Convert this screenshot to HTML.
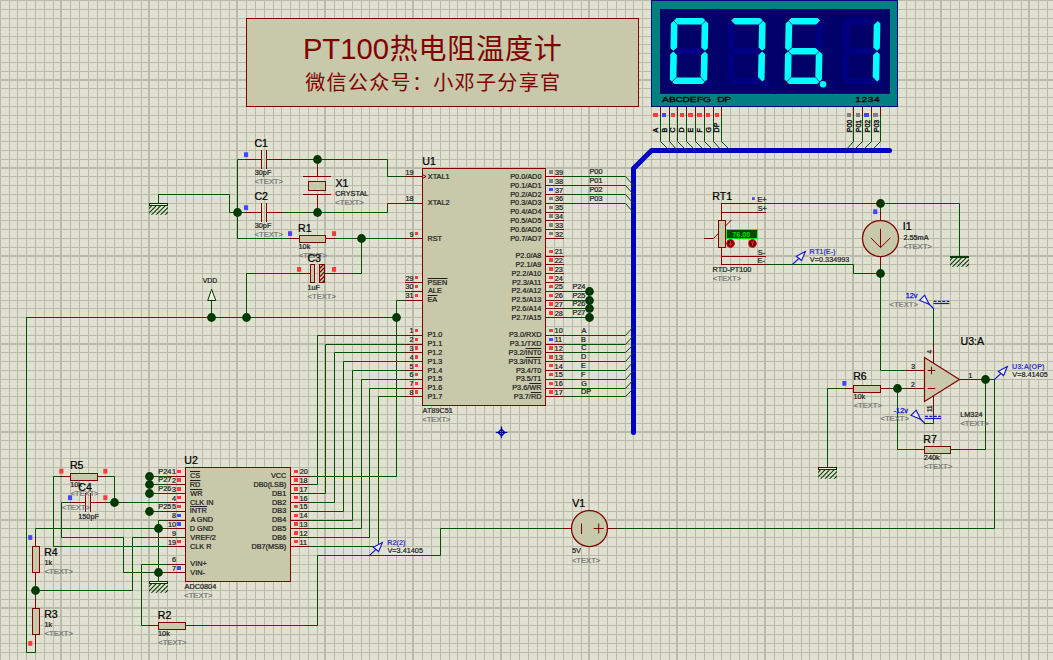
<!DOCTYPE html>
<html><head><meta charset="utf-8"><title>PT100 thermometer schematic</title>
<style>html,body{margin:0;padding:0;background:#E0E1D0;}svg{display:block}text{font-family:"Liberation Sans",sans-serif;}
.t{font-size:7.31px;fill:#202020;stroke:#202020;stroke-width:.22px}
.e{text-anchor:end}
.g{font-size:7.62px;fill:#727272;stroke:#727272;stroke-width:.2px}
.n{font-size:10.6px;fill:#000;stroke:#000;stroke-width:.24px}
.d{font-size:7.9px;fill:#000;stroke:#000;stroke-width:.3px}
.r{font-size:7px;fill:#101010;stroke:#101010;stroke-width:.4px}
.p{font-size:7.31px;fill:#3a3ad6;font-weight:bold}
.s{font-size:6.8px;fill:#202020;stroke:#202020;stroke-width:.23px}
.b{font-size:7.31px;fill:#2020cc;stroke:#2020cc;stroke-width:.31px}
.cj{font-family:"Liberation Sans","Noto Sans CJK SC",sans-serif;fill:#800000}
</style>
</head><body>
<svg width="1053" height="660" viewBox="0 0 1053 660" stroke-linecap="square">
<rect x="0" y="0" width="1053" height="660" fill="#E0E1D0"/>
<path d="M0.5 0V660M9.5 0V660M17.5 0V660M26.5 0V660M35.5 0V660M44.5 0V660M53.5 0V660M70.5 0V660M79.5 0V660M88.5 0V660M97.5 0V660M105.5 0V660M114.5 0V660M123.5 0V660M132.5 0V660M141.5 0V660M158.5 0V660M167.5 0V660M176.5 0V660M185.5 0V660M193.5 0V660M202.5 0V660M211.5 0V660M220.5 0V660M229.5 0V660M246.5 0V660M255.5 0V660M264.5 0V660M273.5 0V660M281.5 0V660M290.5 0V660M299.5 0V660M308.5 0V660M317.5 0V660M334.5 0V660M343.5 0V660M352.5 0V660M361.5 0V660M369.5 0V660M378.5 0V660M387.5 0V660M396.5 0V660M405.5 0V660M422.5 0V660M431.5 0V660M440.5 0V660M449.5 0V660M457.5 0V660M466.5 0V660M475.5 0V660M484.5 0V660M493.5 0V660M510.5 0V660M519.5 0V660M528.5 0V660M537.5 0V660M545.5 0V660M554.5 0V660M563.5 0V660M572.5 0V660M581.5 0V660M598.5 0V660M607.5 0V660M616.5 0V660M625.5 0V660M633.5 0V660M642.5 0V660M651.5 0V660M660.5 0V660M669.5 0V660M686.5 0V660M695.5 0V660M704.5 0V660M713.5 0V660M721.5 0V660M730.5 0V660M739.5 0V660M748.5 0V660M757.5 0V660M774.5 0V660M783.5 0V660M792.5 0V660M801.5 0V660M809.5 0V660M818.5 0V660M827.5 0V660M836.5 0V660M845.5 0V660M862.5 0V660M871.5 0V660M880.5 0V660M889.5 0V660M897.5 0V660M906.5 0V660M915.5 0V660M924.5 0V660M933.5 0V660M950.5 0V660M959.5 0V660M968.5 0V660M977.5 0V660M985.5 0V660M994.5 0V660M1003.5 0V660M1012.5 0V660M1021.5 0V660M1038.5 0V660M1047.5 0V660M0 0.5H1053M0 9.5H1053M0 18.5H1053M0 27.5H1053M0 36.5H1053M0 44.5H1053M0 53.5H1053M0 62.5H1053M0 71.5H1053M0 88.5H1053M0 97.5H1053M0 106.5H1053M0 115.5H1053M0 124.5H1053M0 132.5H1053M0 141.5H1053M0 150.5H1053M0 159.5H1053M0 176.5H1053M0 185.5H1053M0 194.5H1053M0 203.5H1053M0 212.5H1053M0 220.5H1053M0 229.5H1053M0 238.5H1053M0 247.5H1053M0 264.5H1053M0 273.5H1053M0 282.5H1053M0 291.5H1053M0 300.5H1053M0 308.5H1053M0 317.5H1053M0 326.5H1053M0 335.5H1053M0 352.5H1053M0 361.5H1053M0 370.5H1053M0 379.5H1053M0 388.5H1053M0 396.5H1053M0 405.5H1053M0 414.5H1053M0 423.5H1053M0 440.5H1053M0 449.5H1053M0 458.5H1053M0 467.5H1053M0 476.5H1053M0 484.5H1053M0 493.5H1053M0 502.5H1053M0 511.5H1053M0 528.5H1053M0 537.5H1053M0 546.5H1053M0 555.5H1053M0 564.5H1053M0 572.5H1053M0 581.5H1053M0 590.5H1053M0 599.5H1053M0 616.5H1053M0 625.5H1053M0 634.5H1053M0 643.5H1053M0 652.5H1053" stroke="#B9BAA9" stroke-width="1" fill="none"/>
<path d="M61 0V660M149 0V660M237 0V660M325 0V660M413 0V660M501 0V660M589 0V660M677 0V660M765 0V660M853 0V660M941 0V660M1029 0V660M0 80H1053M0 168H1053M0 256H1053M0 344H1053M0 432H1053M0 520H1053M0 608H1053" stroke="#B9BAA9" stroke-width="2" fill="none"/>
<polyline points="633.5,432.5 633.5,168.5 651.5,150.5 889.5,150.5" stroke="#0000C4" stroke-width="5" fill="none" stroke-linecap="round" stroke-linejoin="round"/>
<rect x="246.5" y="18.5" width="392" height="88" fill="#C8C8AA" stroke="#800000" stroke-width="1" />
<text x="302.9" y="58.8" font-size="29.2" fill="#800000">PT100</text>
<text class="cj" y="58.57" x="389.73 418.53 447.33 476.13 504.93 533.73" font-size="27.94">热电阻温度计</text>
<text class="cj" y="89.51" x="305.14 326.49 347.84 369.19 390.54 411.89 433.24 454.59 475.94 497.29 518.64 539.99" font-size="20.07">微信公众号：小邓子分享官</text>
<rect x="651.5" y="0.5" width="246" height="106" fill="#008080" stroke="#000080" stroke-width="1" />
<rect x="660" y="9" width="230" height="84.8" fill="#000068" stroke="none" stroke-width="1" />
<line x1="717.35" y1="9" x2="717.35" y2="93.8" stroke="#00007c" stroke-width="1" />
<line x1="774.7" y1="9" x2="774.7" y2="93.8" stroke="#00007c" stroke-width="1" />
<line x1="832.05" y1="9" x2="832.05" y2="93.8" stroke="#00007c" stroke-width="1" />
<polygon points="676.62,18 702.82,18 705.39,20.62 701.51,24.6 677.67,24.6 673.95,20.62" stroke="none" stroke-width="0" fill="#00FFFF" />
<polygon points="674.3,84 702.5,84 704.66,81.88 700.45,77.4 676.61,77.4 672.22,81.88" stroke="none" stroke-width="0" fill="#00FFFF" />
<polygon points="673.76,51.2 677.42,47.9 700.82,47.9 704.36,51.2 700.69,54.5 677.29,54.5" stroke="none" stroke-width="0" fill="#000080" />
<polygon points="670.91,23.6 673.58,20.98 677.48,24.96 677.03,47.4 673.26,50.8 670.42,48.2" stroke="none" stroke-width="0" fill="#00FFFF" />
<polygon points="708.31,23.6 705.74,20.98 701.68,24.96 701.23,47.4 704.86,50.8 707.82,48.2" stroke="none" stroke-width="0" fill="#00FFFF" />
<polygon points="669.79,79.4 671.87,81.52 676.44,77.04 676.88,55 673.25,51.6 670.3,54.2" stroke="none" stroke-width="0" fill="#00FFFF" />
<polygon points="707.19,79.4 705.03,81.52 700.64,77.04 701.08,55 704.85,51.6 707.7,54.2" stroke="none" stroke-width="0" fill="#00FFFF" />
<circle cx="708.4" cy="84.2" r="3.3" fill="#000080" stroke="none" stroke-width="1"/>
<polygon points="733.97,18 760.17,18 762.74,20.62 758.86,24.6 735.02,24.6 731.3,20.62" stroke="none" stroke-width="0" fill="#00FFFF" />
<polygon points="731.65,84 759.85,84 762.01,81.88 757.8,77.4 733.96,77.4 729.57,81.88" stroke="none" stroke-width="0" fill="#000080" />
<polygon points="731.11,51.2 734.77,47.9 758.17,47.9 761.71,51.2 758.04,54.5 734.64,54.5" stroke="none" stroke-width="0" fill="#000080" />
<polygon points="728.26,23.6 730.93,20.98 734.83,24.96 734.38,47.4 730.61,50.8 727.77,48.2" stroke="none" stroke-width="0" fill="#000080" />
<polygon points="765.66,23.6 763.09,20.98 759.03,24.96 758.58,47.4 762.21,50.8 765.17,48.2" stroke="none" stroke-width="0" fill="#00FFFF" />
<polygon points="727.14,79.4 729.22,81.52 733.79,77.04 734.23,55 730.6,51.6 727.65,54.2" stroke="none" stroke-width="0" fill="#000080" />
<polygon points="764.54,79.4 762.38,81.52 757.99,77.04 758.43,55 762.2,51.6 765.05,54.2" stroke="none" stroke-width="0" fill="#00FFFF" />
<circle cx="765.75" cy="84.2" r="3.3" fill="#000080" stroke="none" stroke-width="1"/>
<polygon points="791.32,18 817.52,18 820.09,20.62 816.21,24.6 792.37,24.6 788.65,20.62" stroke="none" stroke-width="0" fill="#00FFFF" />
<polygon points="789,84 817.2,84 819.36,81.88 815.15,77.4 791.31,77.4 786.92,81.88" stroke="none" stroke-width="0" fill="#00FFFF" />
<polygon points="788.46,51.2 792.12,47.9 815.52,47.9 819.06,51.2 815.39,54.5 791.99,54.5" stroke="none" stroke-width="0" fill="#00FFFF" />
<polygon points="785.61,23.6 788.28,20.98 792.18,24.96 791.73,47.4 787.96,50.8 785.12,48.2" stroke="none" stroke-width="0" fill="#00FFFF" />
<polygon points="823.01,23.6 820.44,20.98 816.38,24.96 815.93,47.4 819.56,50.8 822.52,48.2" stroke="none" stroke-width="0" fill="#000080" />
<polygon points="784.49,79.4 786.57,81.52 791.14,77.04 791.58,55 787.95,51.6 785,54.2" stroke="none" stroke-width="0" fill="#00FFFF" />
<polygon points="821.89,79.4 819.73,81.52 815.34,77.04 815.78,55 819.55,51.6 822.4,54.2" stroke="none" stroke-width="0" fill="#00FFFF" />
<circle cx="823.1" cy="84.2" r="3.3" fill="#00FFFF" stroke="none" stroke-width="1"/>
<polygon points="848.67,18 874.87,18 877.44,20.62 873.56,24.6 849.72,24.6 846,20.62" stroke="none" stroke-width="0" fill="#000080" />
<polygon points="846.35,84 874.55,84 876.71,81.88 872.5,77.4 848.66,77.4 844.27,81.88" stroke="none" stroke-width="0" fill="#000080" />
<polygon points="845.81,51.2 849.47,47.9 872.87,47.9 876.41,51.2 872.74,54.5 849.34,54.5" stroke="none" stroke-width="0" fill="#000080" />
<polygon points="842.96,23.6 845.63,20.98 849.53,24.96 849.08,47.4 845.31,50.8 842.47,48.2" stroke="none" stroke-width="0" fill="#000080" />
<polygon points="880.36,23.6 877.79,20.98 873.73,24.96 873.28,47.4 876.91,50.8 879.87,48.2" stroke="none" stroke-width="0" fill="#00FFFF" />
<polygon points="841.84,79.4 843.92,81.52 848.49,77.04 848.93,55 845.3,51.6 842.35,54.2" stroke="none" stroke-width="0" fill="#000080" />
<polygon points="879.24,79.4 877.08,81.52 872.69,77.04 873.13,55 876.9,51.6 879.75,54.2" stroke="none" stroke-width="0" fill="#00FFFF" />
<circle cx="880.45" cy="84.2" r="3.3" fill="#000080" stroke="none" stroke-width="1"/>
<text class="d" transform="translate(661.97 102) scale(1.298 1)">A</text>
<text class="d" transform="translate(668.9 102) scale(1.298 1)">B</text>
<text class="d" transform="translate(675.55 102) scale(1.298 1)">C</text>
<text class="d" transform="translate(682.48 102) scale(1.298 1)">D</text>
<text class="d" transform="translate(689.69 102) scale(1.298 1)">E</text>
<text class="d" transform="translate(696.91 102) scale(1.298 1)">F</text>
<text class="d" transform="translate(702.99 102) scale(1.298 1)">G</text>
<text class="d" transform="translate(717.13 102) scale(1.298 1)">D</text>
<text class="d" transform="translate(724.34 102) scale(1.298 1)">P</text>
<text class="d" transform="translate(855.34 102) scale(1.298 1)">1</text>
<text class="d" transform="translate(861.54 102) scale(1.298 1)">2</text>
<text class="d" transform="translate(867.74 102) scale(1.298 1)">3</text>
<text class="d" transform="translate(873.94 102) scale(1.298 1)">4</text>
<line x1="660.5" y1="107.5" x2="660.5" y2="115.5" stroke="#800000" stroke-width="1" />
<polyline points="660.5,115.5 660.5,141.5 669.5,150.5" stroke="#005000" stroke-width="1" fill="none" />
<rect x="653" y="113" width="5" height="4" fill="#FF3C3C" stroke="none" stroke-width="1" />
<text class="r" transform="translate(657.9 132.4) rotate(-90)">A</text>
<line x1="669.5" y1="107.5" x2="669.5" y2="115.5" stroke="#800000" stroke-width="1" />
<polyline points="669.5,115.5 669.5,141.5 677.5,150.5" stroke="#005000" stroke-width="1" fill="none" />
<rect x="662" y="113" width="4" height="4" fill="#4646FF" stroke="none" stroke-width="1" />
<text class="r" transform="translate(666.9 132.4) rotate(-90)">B</text>
<line x1="677.5" y1="107.5" x2="677.5" y2="115.5" stroke="#800000" stroke-width="1" />
<polyline points="677.5,115.5 677.5,141.5 686.5,150.5" stroke="#005000" stroke-width="1" fill="none" />
<rect x="671" y="113" width="4" height="4" fill="#FF3C3C" stroke="none" stroke-width="1" />
<text class="r" transform="translate(674.9 132.4) rotate(-90)">C</text>
<line x1="686.5" y1="107.5" x2="686.5" y2="115.5" stroke="#800000" stroke-width="1" />
<polyline points="686.5,115.5 686.5,141.5 695.5,150.5" stroke="#005000" stroke-width="1" fill="none" />
<rect x="680" y="113" width="4" height="4" fill="#FF3C3C" stroke="none" stroke-width="1" />
<text class="r" transform="translate(683.9 132.4) rotate(-90)">D</text>
<line x1="695.5" y1="107.5" x2="695.5" y2="115.5" stroke="#800000" stroke-width="1" />
<polyline points="695.5,115.5 695.5,141.5 704.5,150.5" stroke="#005000" stroke-width="1" fill="none" />
<rect x="688" y="113" width="5" height="4" fill="#FF3C3C" stroke="none" stroke-width="1" />
<text class="r" transform="translate(692.9 132.4) rotate(-90)">E</text>
<line x1="704.5" y1="107.5" x2="704.5" y2="115.5" stroke="#800000" stroke-width="1" />
<polyline points="704.5,115.5 704.5,141.5 713.5,150.5" stroke="#005000" stroke-width="1" fill="none" />
<rect x="697" y="113" width="5" height="4" fill="#FF3C3C" stroke="none" stroke-width="1" />
<text class="r" transform="translate(701.9 132.4) rotate(-90)">F</text>
<line x1="713.5" y1="107.5" x2="713.5" y2="115.5" stroke="#800000" stroke-width="1" />
<polyline points="713.5,115.5 713.5,141.5 721.5,150.5" stroke="#005000" stroke-width="1" fill="none" />
<rect x="706" y="113" width="4" height="4" fill="#FF3C3C" stroke="none" stroke-width="1" />
<text class="r" transform="translate(710.9 132.4) rotate(-90)">G</text>
<line x1="721.5" y1="107.5" x2="721.5" y2="115.5" stroke="#800000" stroke-width="1" />
<polyline points="721.5,115.5 721.5,141.5 730.5,150.5" stroke="#005000" stroke-width="1" fill="none" />
<rect x="715" y="113" width="4" height="4" fill="#FF3C3C" stroke="none" stroke-width="1" />
<text class="r" transform="translate(718.9 132.4) rotate(-90)">DP</text>
<line x1="853.5" y1="107.5" x2="853.5" y2="115.5" stroke="#800000" stroke-width="1" />
<polyline points="853.5,115.5 853.5,141.5 845.5,150.5" stroke="#005000" stroke-width="1" fill="none" />
<rect x="847" y="113" width="4" height="4" fill="#808080" stroke="none" stroke-width="1" />
<text class="r" transform="translate(852.1 132.2) rotate(-90)">P00</text>
<line x1="862.5" y1="107.5" x2="862.5" y2="115.5" stroke="#800000" stroke-width="1" />
<polyline points="862.5,115.5 862.5,141.5 853.5,150.5" stroke="#005000" stroke-width="1" fill="none" />
<rect x="856" y="113" width="4" height="4" fill="#808080" stroke="none" stroke-width="1" />
<text class="r" transform="translate(861.1 132.2) rotate(-90)">P01</text>
<line x1="871.5" y1="107.5" x2="871.5" y2="115.5" stroke="#800000" stroke-width="1" />
<polyline points="871.5,115.5 871.5,141.5 862.5,150.5" stroke="#005000" stroke-width="1" fill="none" />
<rect x="864" y="113" width="5" height="4" fill="#4646FF" stroke="none" stroke-width="1" />
<text class="r" transform="translate(870.1 132.2) rotate(-90)">P02</text>
<line x1="880.5" y1="107.5" x2="880.5" y2="115.5" stroke="#800000" stroke-width="1" />
<polyline points="880.5,115.5 880.5,141.5 871.5,150.5" stroke="#005000" stroke-width="1" fill="none" />
<rect x="873" y="113" width="5" height="4" fill="#808080" stroke="none" stroke-width="1" />
<text class="r" transform="translate(879.1 132.2) rotate(-90)">P03</text>
<polyline points="246.5,159.5 237.5,159.5 237.5,238.5 290.5,238.5" stroke="#005000" stroke-width="1" fill="none" />
<polyline points="246.5,212.5 237.5,212.5" stroke="#005000" stroke-width="1" fill="none" />
<polyline points="158.5,203.5 158.5,194.5 229.5,194.5 229.5,212.5 237.5,212.5" stroke="#005000" stroke-width="1" fill="none" />
<polyline points="281.5,159.5 387.5,159.5 387.5,176.5 405.5,176.5" stroke="#005000" stroke-width="1" fill="none" />
<polyline points="281.5,212.5 387.5,212.5 387.5,203.5 405.5,203.5" stroke="#005000" stroke-width="1" fill="none" />
<polyline points="334.5,238.5 405.5,238.5" stroke="#005000" stroke-width="1" fill="none" />
<polyline points="334.5,273.5 361.5,273.5 361.5,238.5" stroke="#005000" stroke-width="1" fill="none" />
<polyline points="299.5,273.5 246.5,273.5 246.5,317.5" stroke="#005000" stroke-width="1" fill="none" />
<polyline points="26.5,317.5 396.5,317.5 396.5,300.5 405.5,300.5" stroke="#005000" stroke-width="1" fill="none" />
<polyline points="396.5,317.5 396.5,476.5 308.5,476.5" stroke="#005000" stroke-width="1" fill="none" />
<polyline points="211.5,317.5 211.5,300.5" stroke="#005000" stroke-width="1" fill="none" />
<polyline points="26.5,317.5 26.5,652.5 35.5,652.5 35.5,643.5" stroke="#005000" stroke-width="1" fill="none" />
<polyline points="405.5,335.5 317.5,335.5 317.5,484.5 308.5,484.5" stroke="#005000" stroke-width="1" fill="none" />
<polyline points="405.5,344.5 325.5,344.5 325.5,493.5 308.5,493.5" stroke="#005000" stroke-width="1" fill="none" />
<polyline points="405.5,352.5 334.5,352.5 334.5,502.5 308.5,502.5" stroke="#005000" stroke-width="1" fill="none" />
<polyline points="405.5,361.5 343.5,361.5 343.5,511.5 308.5,511.5" stroke="#005000" stroke-width="1" fill="none" />
<polyline points="405.5,370.5 352.5,370.5 352.5,520.5 308.5,520.5" stroke="#005000" stroke-width="1" fill="none" />
<polyline points="405.5,379.5 361.5,379.5 361.5,528.5 308.5,528.5" stroke="#005000" stroke-width="1" fill="none" />
<polyline points="405.5,388.5 369.5,388.5 369.5,537.5 308.5,537.5" stroke="#005000" stroke-width="1" fill="none" />
<polyline points="405.5,396.5 378.5,396.5 378.5,546.5 308.5,546.5" stroke="#005000" stroke-width="1" fill="none" />
<polyline points="563.5,176.5 625.5,176.5 633.5,185.5" stroke="#005000" stroke-width="1" fill="none" />
<polyline points="563.5,291.5 589.5,291.5" stroke="#005000" stroke-width="1" fill="none" />
<polyline points="563.5,185.5 625.5,185.5 633.5,194.5" stroke="#005000" stroke-width="1" fill="none" />
<polyline points="563.5,300.5 589.5,300.5" stroke="#005000" stroke-width="1" fill="none" />
<polyline points="563.5,194.5 625.5,194.5 633.5,203.5" stroke="#005000" stroke-width="1" fill="none" />
<polyline points="563.5,308.5 589.5,308.5" stroke="#005000" stroke-width="1" fill="none" />
<polyline points="563.5,203.5 625.5,203.5 633.5,212.5" stroke="#005000" stroke-width="1" fill="none" />
<polyline points="563.5,317.5 589.5,317.5" stroke="#005000" stroke-width="1" fill="none" />
<polyline points="563.5,335.5 625.5,335.5 633.5,326.5" stroke="#005000" stroke-width="1" fill="none" />
<polyline points="563.5,344.5 625.5,344.5 633.5,335.5" stroke="#005000" stroke-width="1" fill="none" />
<polyline points="563.5,352.5 625.5,352.5 633.5,344.5" stroke="#005000" stroke-width="1" fill="none" />
<polyline points="563.5,361.5 625.5,361.5 633.5,352.5" stroke="#005000" stroke-width="1" fill="none" />
<polyline points="563.5,370.5 625.5,370.5 633.5,361.5" stroke="#005000" stroke-width="1" fill="none" />
<polyline points="563.5,379.5 625.5,379.5 633.5,370.5" stroke="#005000" stroke-width="1" fill="none" />
<polyline points="563.5,388.5 625.5,388.5 633.5,379.5" stroke="#005000" stroke-width="1" fill="none" />
<polyline points="563.5,396.5 625.5,396.5 633.5,388.5" stroke="#005000" stroke-width="1" fill="none" />
<polyline points="149.5,476.5 167.5,476.5" stroke="#005000" stroke-width="1" fill="none" />
<polyline points="149.5,484.5 167.5,484.5" stroke="#005000" stroke-width="1" fill="none" />
<polyline points="149.5,493.5 167.5,493.5" stroke="#005000" stroke-width="1" fill="none" />
<polyline points="149.5,511.5 167.5,511.5" stroke="#005000" stroke-width="1" fill="none" />
<polyline points="167.5,502.5 105.5,502.5" stroke="#005000" stroke-width="1" fill="none" />
<polyline points="61.5,476.5 53.5,476.5 53.5,546.5 167.5,546.5" stroke="#005000" stroke-width="1" fill="none" />
<polyline points="105.5,476.5 114.5,476.5 114.5,502.5" stroke="#005000" stroke-width="1" fill="none" />
<polyline points="70.5,502.5 61.5,502.5 61.5,537.5 123.5,537.5 123.5,572.5 167.5,572.5" stroke="#005000" stroke-width="1" fill="none" />
<polyline points="167.5,520.5 158.5,520.5 158.5,581.5" stroke="#005000" stroke-width="1" fill="none" />
<polyline points="167.5,528.5 35.5,528.5 35.5,537.5" stroke="#005000" stroke-width="1" fill="none" />
<polyline points="167.5,537.5 132.5,537.5 132.5,590.5 35.5,590.5" stroke="#005000" stroke-width="1" fill="none" />
<polyline points="167.5,564.5 141.5,564.5 141.5,625.5 149.5,625.5" stroke="#005000" stroke-width="1" fill="none" />
<polyline points="35.5,581.5 35.5,599.5" stroke="#005000" stroke-width="1" fill="none" />
<polyline points="193.5,625.5 317.5,625.5 317.5,555.5 440.5,555.5 440.5,528.5 563.5,528.5" stroke="#005000" stroke-width="1" fill="none" />
<polyline points="616.5,528.5 994.5,528.5 994.5,379.5 977.5,379.5" stroke="#005000" stroke-width="1" fill="none" />
<polyline points="765.5,203.5 959.5,203.5 959.5,256.5" stroke="#005000" stroke-width="1" fill="none" />
<polyline points="765.5,264.5 853.5,264.5 853.5,273.5 880.5,273.5" stroke="#005000" stroke-width="1" fill="none" />
<polyline points="880.5,203.5 880.5,212.5" stroke="#005000" stroke-width="1" fill="none" />
<polyline points="880.5,264.5 880.5,370.5 906.5,370.5" stroke="#005000" stroke-width="1" fill="none" />
<polyline points="889.5,388.5 906.5,388.5" stroke="#005000" stroke-width="1" fill="none" />
<polyline points="845.5,388.5 827.5,388.5 827.5,467.5" stroke="#005000" stroke-width="1" fill="none" />
<polyline points="897.5,388.5 897.5,449.5 915.5,449.5" stroke="#005000" stroke-width="1" fill="none" />
<polyline points="959.5,449.5 985.5,449.5 985.5,379.5" stroke="#005000" stroke-width="1" fill="none" />
<polyline points="933.5,344.5 933.5,308.5" stroke="#005000" stroke-width="1" fill="none" />
<polyline points="933.5,414.5 933.5,423.5 924.5,423.5" stroke="#005000" stroke-width="1" fill="none" />
<line x1="246.5" y1="159.5" x2="261.5" y2="159.5" stroke="#800000" stroke-width="1" />
<line x1="266.5" y1="159.5" x2="281.5" y2="159.5" stroke="#800000" stroke-width="1" />
<line x1="261.5" y1="150.5" x2="261.5" y2="168.5" stroke="#800000" stroke-width="1" />
<line x1="266.5" y1="150.5" x2="266.5" y2="168.5" stroke="#800000" stroke-width="1" />
<line x1="246.5" y1="212.5" x2="261.5" y2="212.5" stroke="#800000" stroke-width="1" />
<line x1="266.5" y1="212.5" x2="281.5" y2="212.5" stroke="#800000" stroke-width="1" />
<line x1="261.5" y1="203.5" x2="261.5" y2="221.5" stroke="#800000" stroke-width="1" />
<line x1="266.5" y1="203.5" x2="266.5" y2="221.5" stroke="#800000" stroke-width="1" />
<line x1="317.5" y1="159.5" x2="317.5" y2="176.5" stroke="#800000" stroke-width="1" />
<line x1="317.5" y1="194.5" x2="317.5" y2="212.5" stroke="#800000" stroke-width="1" />
<line x1="303.5" y1="176.5" x2="330.5" y2="176.5" stroke="#800000" stroke-width="1" />
<line x1="303.5" y1="194.5" x2="330.5" y2="194.5" stroke="#800000" stroke-width="1" />
<rect x="308.5" y="181.5" width="17" height="9" fill="#C8C8AA" stroke="#800000" stroke-width="1" />
<line x1="290.5" y1="238.5" x2="299.5" y2="238.5" stroke="#800000" stroke-width="1" />
<line x1="325.5" y1="238.5" x2="334.5" y2="238.5" stroke="#800000" stroke-width="1" />
<rect x="299.5" y="235.5" width="26" height="7" fill="#C8C8AA" stroke="#800000" stroke-width="1" />
<line x1="299.5" y1="273.5" x2="310.5" y2="273.5" stroke="#800000" stroke-width="1" />
<line x1="324.5" y1="273.5" x2="334.5" y2="273.5" stroke="#800000" stroke-width="1" />
<rect x="310.5" y="264.5" width="4" height="18" fill="#C8C8AA" stroke="#800000" stroke-width="1" />
<clipPath id="c3"><rect x="319.5" y="264.5" width="5" height="18"/></clipPath>
<rect x="319.5" y="264.5" width="5" height="18" fill="#C8C8AA" stroke="#800000" stroke-width="1" />
<g clip-path="url(#c3)">
<line x1="318" y1="261.6" x2="327" y2="252.6" stroke="#800000" stroke-width="1.3" />
<line x1="318" y1="265.8" x2="327" y2="256.8" stroke="#800000" stroke-width="1.3" />
<line x1="318" y1="270" x2="327" y2="261" stroke="#800000" stroke-width="1.3" />
<line x1="318" y1="274.2" x2="327" y2="265.2" stroke="#800000" stroke-width="1.3" />
<line x1="318" y1="278.4" x2="327" y2="269.4" stroke="#800000" stroke-width="1.3" />
<line x1="318" y1="282.6" x2="327" y2="273.6" stroke="#800000" stroke-width="1.3" />
<line x1="318" y1="286.8" x2="327" y2="277.8" stroke="#800000" stroke-width="1.3" />
<line x1="318" y1="291" x2="327" y2="282" stroke="#800000" stroke-width="1.3" />
<line x1="318" y1="295.2" x2="327" y2="286.2" stroke="#800000" stroke-width="1.3" />
<line x1="318" y1="299.4" x2="327" y2="290.4" stroke="#800000" stroke-width="1.3" />
</g>
<polygon points="211.5,289.8 207.7,300.5 215.3,300.5" stroke="#003800" stroke-width="1" fill="#f4f4e8" />
<rect x="149.5" y="203.5" width="18" height="2" fill="#f0f0e4" stroke="#003800" stroke-width="1" />
<clipPath id="g11_14"><rect x="149" y="206" width="19" height="8.7"/></clipPath>
<g clip-path="url(#g11_14)">
<line x1="151.9" y1="205.5" x2="142.2" y2="215.2" stroke="#003800" stroke-width="1.05" />
<line x1="156.4" y1="205.5" x2="146.7" y2="215.2" stroke="#003800" stroke-width="1.05" />
<line x1="160.9" y1="205.5" x2="151.2" y2="215.2" stroke="#003800" stroke-width="1.05" />
<line x1="165.4" y1="205.5" x2="155.7" y2="215.2" stroke="#003800" stroke-width="1.05" />
<line x1="169.9" y1="205.5" x2="160.2" y2="215.2" stroke="#003800" stroke-width="1.05" />
<line x1="174.4" y1="205.5" x2="164.7" y2="215.2" stroke="#003800" stroke-width="1.05" />
</g>
<rect x="422.5" y="168.5" width="123" height="237" fill="#C8C8AA" stroke="#800000" stroke-width="1" />
<polyline points="422.5,174.6 426.1,176.5 422.5,178.4" stroke="#800000" stroke-width="1" fill="none" />
<rect x="185.5" y="467.5" width="105" height="114" fill="#C8C8AA" stroke="#800000" stroke-width="1" />
<line x1="61.5" y1="476.5" x2="70.5" y2="476.5" stroke="#800000" stroke-width="1" />
<line x1="97.5" y1="476.5" x2="105.5" y2="476.5" stroke="#800000" stroke-width="1" />
<rect x="70.5" y="473.5" width="27" height="7" fill="#C8C8AA" stroke="#800000" stroke-width="1" />
<line x1="70.5" y1="502.5" x2="85.5" y2="502.5" stroke="#800000" stroke-width="1" />
<line x1="90.5" y1="502.5" x2="105.5" y2="502.5" stroke="#800000" stroke-width="1" />
<line x1="85.5" y1="493.5" x2="85.5" y2="511.5" stroke="#800000" stroke-width="1" />
<line x1="90.5" y1="493.5" x2="90.5" y2="511.5" stroke="#800000" stroke-width="1" />
<line x1="35.5" y1="537.5" x2="35.5" y2="546.5" stroke="#800000" stroke-width="1" />
<line x1="35.5" y1="572.5" x2="35.5" y2="581.5" stroke="#800000" stroke-width="1" />
<rect x="32.5" y="546.5" width="7" height="26" fill="#C8C8AA" stroke="#800000" stroke-width="1" />
<line x1="35.5" y1="599.5" x2="35.5" y2="608.5" stroke="#800000" stroke-width="1" />
<line x1="35.5" y1="634.5" x2="35.5" y2="643.5" stroke="#800000" stroke-width="1" />
<rect x="32.5" y="608.5" width="7" height="26" fill="#C8C8AA" stroke="#800000" stroke-width="1" />
<line x1="149.5" y1="625.5" x2="158.5" y2="625.5" stroke="#800000" stroke-width="1" />
<line x1="185.5" y1="625.5" x2="193.5" y2="625.5" stroke="#800000" stroke-width="1" />
<rect x="158.5" y="622.5" width="27" height="7" fill="#C8C8AA" stroke="#800000" stroke-width="1" />
<rect x="149.5" y="581.5" width="18" height="2" fill="#f0f0e4" stroke="#003800" stroke-width="1" />
<clipPath id="g11_57"><rect x="149" y="584" width="19" height="8.7"/></clipPath>
<g clip-path="url(#g11_57)">
<line x1="151.9" y1="583.5" x2="142.2" y2="593.2" stroke="#003800" stroke-width="1.05" />
<line x1="156.4" y1="583.5" x2="146.7" y2="593.2" stroke="#003800" stroke-width="1.05" />
<line x1="160.9" y1="583.5" x2="151.2" y2="593.2" stroke="#003800" stroke-width="1.05" />
<line x1="165.4" y1="583.5" x2="155.7" y2="593.2" stroke="#003800" stroke-width="1.05" />
<line x1="169.9" y1="583.5" x2="160.2" y2="593.2" stroke="#003800" stroke-width="1.05" />
<line x1="174.4" y1="583.5" x2="164.7" y2="593.2" stroke="#003800" stroke-width="1.05" />
</g>
<circle cx="589.5" cy="528.5" r="18" fill="#C8C8AA" stroke="#800000" stroke-width="1.25"/>
<line x1="563.5" y1="528.5" x2="571.5" y2="528.5" stroke="#800000" stroke-width="1" />
<line x1="607.5" y1="528.5" x2="616.5" y2="528.5" stroke="#800000" stroke-width="1" />
<line x1="581.5" y1="524" x2="581.5" y2="533.5" stroke="#800000" stroke-width="1" />
<line x1="594.2" y1="528.5" x2="603.2" y2="528.5" stroke="#800000" stroke-width="1" />
<line x1="598.7" y1="524" x2="598.7" y2="533" stroke="#800000" stroke-width="1" />
<line x1="721.5" y1="203.5" x2="765.5" y2="203.5" stroke="#800000" stroke-width="1" />
<line x1="721.5" y1="212.5" x2="765.5" y2="212.5" stroke="#800000" stroke-width="1" />
<line x1="721.5" y1="256.5" x2="765.5" y2="256.5" stroke="#800000" stroke-width="1" />
<line x1="721.5" y1="264.5" x2="765.5" y2="264.5" stroke="#800000" stroke-width="1" />
<line x1="721.5" y1="203.5" x2="721.5" y2="220.5" stroke="#800000" stroke-width="1" />
<line x1="721.5" y1="247.5" x2="721.5" y2="264.5" stroke="#800000" stroke-width="1" />
<polyline points="704.5,238.5 713.5,238.5 731,220.3" stroke="#800000" stroke-width="1" fill="none" />
<rect x="718.5" y="220.5" width="7" height="27" fill="#C8C8AA" stroke="#800000" stroke-width="1" />
<rect x="726.5" y="229.5" width="31" height="9.2" fill="#004800" stroke="#00FF00" stroke-width="1" />
<text x="732.19" y="237" font-size="7.19" font-weight="bold" fill="#00E000">76.00</text>
<circle cx="730.5" cy="243.5" r="3.9" fill="#5a0000" stroke="#FF0000" stroke-width="0.9"/>
<line x1="730.5" y1="241.4" x2="730.5" y2="245.2" stroke="#FF2020" stroke-width="1.1" stroke-linecap="butt"/>
<polyline points="728.8,243.6 730.5,245.4 732.2,243.6" stroke="#FF2020" stroke-width="1.0" fill="none" stroke-linecap="butt"/>
<circle cx="752.5" cy="243.5" r="3.9" fill="#5a0000" stroke="#FF0000" stroke-width="0.9"/>
<line x1="752.5" y1="242.4" x2="752.5" y2="245.4" stroke="#FF2020" stroke-width="1.1" stroke-linecap="butt"/>
<line x1="750.9" y1="242.2" x2="754.1" y2="242.2" stroke="#FF2020" stroke-width="1.1" stroke-linecap="butt"/>
<line x1="880.5" y1="212.5" x2="880.5" y2="220.5" stroke="#800000" stroke-width="1" />
<line x1="880.5" y1="256.5" x2="880.5" y2="264.5" stroke="#800000" stroke-width="1" />
<circle cx="880.5" cy="238.5" r="18" fill="#C8C8AA" stroke="#800000" stroke-width="1.25"/>
<line x1="880.5" y1="229.4" x2="880.5" y2="247.6" stroke="#800000" stroke-width="1" />
<polyline points="871.2,238.2 880.5,247.6 890,238.2" stroke="#800000" stroke-width="1" fill="none" />
<rect x="950.5" y="256.5" width="18" height="1" fill="#f0f0e4" stroke="#003800" stroke-width="1" />
<clipPath id="g102_20"><rect x="950" y="258" width="19" height="8.7"/></clipPath>
<g clip-path="url(#g102_20)">
<line x1="952.9" y1="257.5" x2="943.2" y2="267.2" stroke="#003800" stroke-width="1.05" />
<line x1="957.4" y1="257.5" x2="947.7" y2="267.2" stroke="#003800" stroke-width="1.05" />
<line x1="961.9" y1="257.5" x2="952.2" y2="267.2" stroke="#003800" stroke-width="1.05" />
<line x1="966.4" y1="257.5" x2="956.7" y2="267.2" stroke="#003800" stroke-width="1.05" />
<line x1="970.9" y1="257.5" x2="961.2" y2="267.2" stroke="#003800" stroke-width="1.05" />
<line x1="975.4" y1="257.5" x2="965.7" y2="267.2" stroke="#003800" stroke-width="1.05" />
</g>
<polygon points="924.5,357.5 924.5,401.5 959.5,379.5" stroke="#800000" stroke-width="1.2" fill="#C8C8AA" />
<line x1="906.5" y1="370.5" x2="924.5" y2="370.5" stroke="#800000" stroke-width="1" />
<line x1="906.5" y1="388.5" x2="924.5" y2="388.5" stroke="#800000" stroke-width="1" />
<line x1="959.5" y1="379.5" x2="977.5" y2="379.5" stroke="#800000" stroke-width="1" />
<line x1="933.5" y1="344.5" x2="933.5" y2="363" stroke="#800000" stroke-width="1" />
<line x1="933.5" y1="396" x2="933.5" y2="414.5" stroke="#800000" stroke-width="1" />
<line x1="928.2" y1="370.5" x2="934.8" y2="370.5" stroke="#800000" stroke-width="1" />
<line x1="931.5" y1="367.2" x2="931.5" y2="373.8" stroke="#800000" stroke-width="1" />
<line x1="928.2" y1="388.5" x2="934.8" y2="388.5" stroke="#800000" stroke-width="1" />
<line x1="845.5" y1="388.5" x2="853.5" y2="388.5" stroke="#800000" stroke-width="1" />
<line x1="880.5" y1="388.5" x2="889.5" y2="388.5" stroke="#800000" stroke-width="1" />
<rect x="853.5" y="385.5" width="27" height="7" fill="#C8C8AA" stroke="#800000" stroke-width="1" />
<line x1="915.5" y1="449.5" x2="924.5" y2="449.5" stroke="#800000" stroke-width="1" />
<line x1="950.5" y1="449.5" x2="959.5" y2="449.5" stroke="#800000" stroke-width="1" />
<rect x="924.5" y="446.5" width="26" height="7" fill="#C8C8AA" stroke="#800000" stroke-width="1" />
<rect x="818.5" y="467.5" width="18" height="2" fill="#f0f0e4" stroke="#003800" stroke-width="1" />
<clipPath id="g87_44"><rect x="818" y="470" width="19" height="8.7"/></clipPath>
<g clip-path="url(#g87_44)">
<line x1="820.9" y1="469.5" x2="811.2" y2="479.2" stroke="#003800" stroke-width="1.05" />
<line x1="825.4" y1="469.5" x2="815.7" y2="479.2" stroke="#003800" stroke-width="1.05" />
<line x1="829.9" y1="469.5" x2="820.2" y2="479.2" stroke="#003800" stroke-width="1.05" />
<line x1="834.4" y1="469.5" x2="824.7" y2="479.2" stroke="#003800" stroke-width="1.05" />
<line x1="838.9" y1="469.5" x2="829.2" y2="479.2" stroke="#003800" stroke-width="1.05" />
<line x1="843.4" y1="469.5" x2="833.7" y2="479.2" stroke="#003800" stroke-width="1.05" />
</g>
<circle cx="237.5" cy="212.5" r="4.4" fill="#003800" stroke="none" stroke-width="1"/>
<circle cx="317.5" cy="159.5" r="4.4" fill="#003800" stroke="none" stroke-width="1"/>
<circle cx="317.5" cy="212.5" r="4.4" fill="#003800" stroke="none" stroke-width="1"/>
<circle cx="361.5" cy="238.5" r="4.4" fill="#003800" stroke="none" stroke-width="1"/>
<circle cx="211.5" cy="317.5" r="4.4" fill="#003800" stroke="none" stroke-width="1"/>
<circle cx="246.5" cy="317.5" r="4.4" fill="#003800" stroke="none" stroke-width="1"/>
<circle cx="396.5" cy="317.5" r="4.4" fill="#003800" stroke="none" stroke-width="1"/>
<circle cx="589.5" cy="291.5" r="4.4" fill="#003800" stroke="none" stroke-width="1"/>
<circle cx="589.5" cy="300.5" r="4.4" fill="#003800" stroke="none" stroke-width="1"/>
<circle cx="589.5" cy="308.5" r="4.4" fill="#003800" stroke="none" stroke-width="1"/>
<circle cx="589.5" cy="317.5" r="4.4" fill="#003800" stroke="none" stroke-width="1"/>
<circle cx="149.5" cy="476.5" r="4.4" fill="#003800" stroke="none" stroke-width="1"/>
<circle cx="149.5" cy="484.5" r="4.4" fill="#003800" stroke="none" stroke-width="1"/>
<circle cx="149.5" cy="493.5" r="4.4" fill="#003800" stroke="none" stroke-width="1"/>
<circle cx="149.5" cy="511.5" r="4.4" fill="#003800" stroke="none" stroke-width="1"/>
<circle cx="114.5" cy="502.5" r="4.4" fill="#003800" stroke="none" stroke-width="1"/>
<circle cx="158.5" cy="528.5" r="4.4" fill="#003800" stroke="none" stroke-width="1"/>
<circle cx="158.5" cy="572.5" r="4.4" fill="#003800" stroke="none" stroke-width="1"/>
<circle cx="35.5" cy="590.5" r="4.4" fill="#003800" stroke="none" stroke-width="1"/>
<circle cx="880.5" cy="203.5" r="4.4" fill="#003800" stroke="none" stroke-width="1"/>
<circle cx="880.5" cy="273.5" r="4.4" fill="#003800" stroke="none" stroke-width="1"/>
<circle cx="897.5" cy="388.5" r="4.4" fill="#003800" stroke="none" stroke-width="1"/>
<circle cx="985.5" cy="379.5" r="4.4" fill="#003800" stroke="none" stroke-width="1"/>
<polyline points="933.5,308.5 928.9,303.9" stroke="#1414d2" stroke-width="1.2" fill="none" />
<polygon points="929.1,304.3 919.5,300.3 924.7,295.2" stroke="#1414d2" stroke-width="1.1" fill="#eeeedd" />
<line x1="934" y1="303.5" x2="948.8" y2="303.5" stroke="#1414d2" stroke-width="1.2" />
<line x1="933.5" y1="301.3" x2="949.3" y2="301.3" stroke="#1414d2" stroke-width="1.2" stroke-dasharray="3 1.4" stroke-linecap="butt"/>
<polyline points="925,423.5 920.4,418.9" stroke="#1414d2" stroke-width="1.2" fill="none" />
<polygon points="920.6,419.3 911,415.3 916.2,410.2" stroke="#1414d2" stroke-width="1.1" fill="#eeeedd" />
<line x1="925.5" y1="418.5" x2="940.3" y2="418.5" stroke="#1414d2" stroke-width="1.2" />
<line x1="925" y1="416.3" x2="940.8" y2="416.3" stroke="#1414d2" stroke-width="1.2" stroke-dasharray="3 1.4" stroke-linecap="butt"/>
<polyline points="369.5,555.5 375.3,550" stroke="#1414d2" stroke-width="1.2" fill="none" />
<polygon points="382.3,542.6 373.3,547.3 378.6,551.5" stroke="#1414d2" stroke-width="1.1" fill="#eeeedd" />
<text class="p" x="387.21" y="545.1">R2(2)</text>
<rect x="386.7" y="547.3" width="36.78" height="7" fill="#e6e7d8" stroke="none" stroke-width="1" />
<text class="t" x="387.47" y="552.9">V=3.41405</text>
<polyline points="792.5,264.5 798.3,259" stroke="#1414d2" stroke-width="1.2" fill="none" />
<polygon points="805.3,251.6 796.3,256.3 801.6,260.5" stroke="#1414d2" stroke-width="1.1" fill="#eeeedd" />
<text class="p" x="809.61" y="254.1">RT1(E-)</text>
<rect x="809.1" y="256.3" width="40.85" height="7" fill="#e6e7d8" stroke="none" stroke-width="1" />
<text class="t" x="809.87" y="261.9">V=0.334993</text>
<polyline points="994.5,379.5 1000.3,374" stroke="#1414d2" stroke-width="1.2" fill="none" />
<polygon points="1007.3,366.6 998.3,371.3 1003.6,375.5" stroke="#1414d2" stroke-width="1.1" fill="#eeeedd" />
<text class="p" x="1012.06" y="369.1">U3:A(OP)</text>
<rect x="1011.5" y="371.3" width="36.78" height="7" fill="#e6e7d8" stroke="none" stroke-width="1" />
<text class="t" x="1012.27" y="376.9">V=8.41405</text>
<line x1="496.5" y1="432.5" x2="506.7" y2="432.5" stroke="#0000B4" stroke-width="1.2" />
<line x1="501.5" y1="427.1" x2="501.5" y2="437.5" stroke="#0000B4" stroke-width="1.2" />
<polygon points="498.2,432.5 501.5,429.2 504.8,432.5 501.5,435.8" stroke="#0000B4" stroke-width="1.3" fill="none" />
<line x1="405.5" y1="176.5" x2="422.5" y2="176.5" stroke="#800000" stroke-width="1" />
<text class="t e" x="413.6" y="175">19</text>
<text class="t" x="427.84" y="179.05">XTAL1</text>
<line x1="405.5" y1="203.5" x2="422.5" y2="203.5" stroke="#800000" stroke-width="1" />
<text class="t e" x="413.6" y="201.4">18</text>
<text class="t" x="427.84" y="205.45">XTAL2</text>
<line x1="405.5" y1="238.5" x2="422.5" y2="238.5" stroke="#800000" stroke-width="1" />
<text class="t e" x="413.6" y="236.6">9</text>
<rect x="415" y="232" width="3" height="3" fill="#FF3C3C" stroke="none" stroke-width="1" />
<text class="t" x="427.4" y="240.65">RST</text>
<line x1="405.5" y1="282.5" x2="422.5" y2="282.5" stroke="#800000" stroke-width="1" />
<text class="t e" x="413.6" y="280.6">29</text>
<rect x="415" y="276" width="3" height="3" fill="#FF3C3C" stroke="none" stroke-width="1" />
<text class="t" x="427.4" y="284.65">PSEN</text>
<line x1="427.6" y1="278.5" x2="447.51" y2="278.5" stroke="#202020" stroke-width="1" stroke-linecap="butt"/>
<line x1="405.5" y1="291.5" x2="422.5" y2="291.5" stroke="#800000" stroke-width="1" />
<text class="t e" x="413.6" y="289.4">30</text>
<rect x="415" y="285" width="3" height="3" fill="#FF3C3C" stroke="none" stroke-width="1" />
<text class="t" x="428" y="293.45">ALE</text>
<line x1="405.5" y1="300.5" x2="422.5" y2="300.5" stroke="#800000" stroke-width="1" />
<text class="t e" x="413.6" y="298.2">31</text>
<rect x="415" y="294" width="3" height="3" fill="#FF3C3C" stroke="none" stroke-width="1" />
<text class="t" x="427.4" y="302.25">EA</text>
<line x1="427.6" y1="295.5" x2="437.36" y2="295.5" stroke="#202020" stroke-width="1" stroke-linecap="butt"/>
<line x1="405.5" y1="335.5" x2="422.5" y2="335.5" stroke="#800000" stroke-width="1" />
<text class="t e" x="413.6" y="333.4">1</text>
<rect x="415" y="329" width="3" height="3" fill="#FF3C3C" stroke="none" stroke-width="1" />
<text class="t" x="427.4" y="337.45">P1.0</text>
<line x1="405.5" y1="344.5" x2="422.5" y2="344.5" stroke="#800000" stroke-width="1" />
<text class="t e" x="413.6" y="342.2">2</text>
<rect x="415" y="338" width="3" height="3" fill="#FF3C3C" stroke="none" stroke-width="1" />
<text class="t" x="427.4" y="346.25">P1.1</text>
<line x1="405.5" y1="352.5" x2="422.5" y2="352.5" stroke="#800000" stroke-width="1" />
<text class="t e" x="413.6" y="351">3</text>
<rect x="415" y="346" width="3" height="4" fill="#FF3C3C" stroke="none" stroke-width="1" />
<text class="t" x="427.4" y="355.05">P1.2</text>
<line x1="405.5" y1="361.5" x2="422.5" y2="361.5" stroke="#800000" stroke-width="1" />
<text class="t e" x="413.6" y="359.8">4</text>
<rect x="415" y="355" width="3" height="4" fill="#FF3C3C" stroke="none" stroke-width="1" />
<text class="t" x="427.4" y="363.85">P1.3</text>
<line x1="405.5" y1="370.5" x2="422.5" y2="370.5" stroke="#800000" stroke-width="1" />
<text class="t e" x="413.6" y="368.6">5</text>
<rect x="415" y="364" width="3" height="3" fill="#FF3C3C" stroke="none" stroke-width="1" />
<text class="t" x="427.4" y="372.65">P1.4</text>
<line x1="405.5" y1="379.5" x2="422.5" y2="379.5" stroke="#800000" stroke-width="1" />
<text class="t e" x="413.6" y="377.4">6</text>
<rect x="415" y="373" width="3" height="3" fill="#FF3C3C" stroke="none" stroke-width="1" />
<text class="t" x="427.4" y="381.45">P1.5</text>
<line x1="405.5" y1="388.5" x2="422.5" y2="388.5" stroke="#800000" stroke-width="1" />
<text class="t e" x="413.6" y="386.2">7</text>
<rect x="415" y="382" width="3" height="3" fill="#FF3C3C" stroke="none" stroke-width="1" />
<text class="t" x="427.4" y="390.25">P1.6</text>
<line x1="405.5" y1="396.5" x2="422.5" y2="396.5" stroke="#800000" stroke-width="1" />
<text class="t e" x="413.6" y="395">8</text>
<rect x="415" y="390" width="3" height="4" fill="#FF3C3C" stroke="none" stroke-width="1" />
<text class="t" x="427.4" y="399.05">P1.7</text>
<line x1="545.5" y1="176.5" x2="563.5" y2="176.5" stroke="#800000" stroke-width="1" />
<text class="t" x="554.9" y="175">39</text>
<rect x="549" y="170" width="4" height="4" fill="#808080" stroke="none" stroke-width="1" />
<text class="t e" x="541.45" y="179.05">P0.0/AD0</text>
<line x1="545.5" y1="185.5" x2="563.5" y2="185.5" stroke="#800000" stroke-width="1" />
<text class="t" x="554.9" y="183.8">38</text>
<rect x="549" y="179" width="4" height="4" fill="#808080" stroke="none" stroke-width="1" />
<text class="t e" x="541.45" y="187.85">P0.1/AD1</text>
<line x1="545.5" y1="194.5" x2="563.5" y2="194.5" stroke="#800000" stroke-width="1" />
<text class="t" x="554.9" y="192.6">37</text>
<rect x="549" y="188" width="4" height="3" fill="#4646FF" stroke="none" stroke-width="1" />
<text class="t e" x="541.45" y="196.65">P0.2/AD2</text>
<line x1="545.5" y1="203.5" x2="563.5" y2="203.5" stroke="#800000" stroke-width="1" />
<text class="t" x="554.9" y="201.4">36</text>
<rect x="549" y="197" width="4" height="3" fill="#808080" stroke="none" stroke-width="1" />
<text class="t e" x="541.45" y="205.45">P0.3/AD3</text>
<line x1="545.5" y1="212.5" x2="563.5" y2="212.5" stroke="#800000" stroke-width="1" />
<text class="t" x="554.9" y="210.2">35</text>
<rect x="549" y="206" width="4" height="3" fill="#808080" stroke="none" stroke-width="1" />
<text class="t e" x="541.45" y="214.25">P0.4/AD4</text>
<line x1="545.5" y1="220.5" x2="563.5" y2="220.5" stroke="#800000" stroke-width="1" />
<text class="t" x="554.9" y="219">34</text>
<rect x="549" y="214" width="4" height="4" fill="#808080" stroke="none" stroke-width="1" />
<text class="t e" x="541.45" y="223.05">P0.5/AD5</text>
<line x1="545.5" y1="229.5" x2="563.5" y2="229.5" stroke="#800000" stroke-width="1" />
<text class="t" x="554.9" y="227.8">33</text>
<rect x="549" y="223" width="4" height="4" fill="#808080" stroke="none" stroke-width="1" />
<text class="t e" x="541.45" y="231.85">P0.6/AD6</text>
<line x1="545.5" y1="238.5" x2="563.5" y2="238.5" stroke="#800000" stroke-width="1" />
<text class="t" x="554.9" y="236.6">32</text>
<rect x="549" y="232" width="4" height="3" fill="#808080" stroke="none" stroke-width="1" />
<text class="t e" x="541.45" y="240.65">P0.7/AD7</text>
<line x1="545.5" y1="256.5" x2="563.5" y2="256.5" stroke="#800000" stroke-width="1" />
<text class="t" x="554.8" y="254.2">21</text>
<rect x="549" y="250" width="4" height="3" fill="#FF3C3C" stroke="none" stroke-width="1" />
<text class="t e" x="541.45" y="258.25">P2.0/A8</text>
<line x1="545.5" y1="264.5" x2="563.5" y2="264.5" stroke="#800000" stroke-width="1" />
<text class="t" x="554.8" y="263">22</text>
<rect x="549" y="258" width="4" height="4" fill="#FF3C3C" stroke="none" stroke-width="1" />
<text class="t e" x="541.45" y="267.05">P2.1/A9</text>
<line x1="545.5" y1="273.5" x2="563.5" y2="273.5" stroke="#800000" stroke-width="1" />
<text class="t" x="554.8" y="271.8">23</text>
<rect x="549" y="267" width="4" height="4" fill="#FF3C3C" stroke="none" stroke-width="1" />
<text class="t e" x="541.45" y="275.85">P2.2/A10</text>
<line x1="545.5" y1="282.5" x2="563.5" y2="282.5" stroke="#800000" stroke-width="1" />
<text class="t" x="554.8" y="280.6">24</text>
<rect x="549" y="276" width="4" height="3" fill="#FF3C3C" stroke="none" stroke-width="1" />
<text class="t e" x="541.45" y="284.65">P2.3/A11</text>
<line x1="545.5" y1="291.5" x2="563.5" y2="291.5" stroke="#800000" stroke-width="1" />
<text class="t" x="554.8" y="289.4">25</text>
<rect x="549" y="285" width="4" height="3" fill="#FF3C3C" stroke="none" stroke-width="1" />
<text class="t e" x="541.45" y="293.45">P2.4/A12</text>
<line x1="545.5" y1="300.5" x2="563.5" y2="300.5" stroke="#800000" stroke-width="1" />
<text class="t" x="554.8" y="298.2">26</text>
<rect x="549" y="294" width="4" height="3" fill="#FF3C3C" stroke="none" stroke-width="1" />
<text class="t e" x="541.45" y="302.25">P2.5/A13</text>
<line x1="545.5" y1="308.5" x2="563.5" y2="308.5" stroke="#800000" stroke-width="1" />
<text class="t" x="554.8" y="307">27</text>
<rect x="549" y="302" width="4" height="4" fill="#FF3C3C" stroke="none" stroke-width="1" />
<text class="t e" x="541.45" y="311.05">P2.6/A14</text>
<line x1="545.5" y1="317.5" x2="563.5" y2="317.5" stroke="#800000" stroke-width="1" />
<text class="t" x="554.8" y="315.8">28</text>
<rect x="549" y="311" width="4" height="4" fill="#FF3C3C" stroke="none" stroke-width="1" />
<text class="t e" x="541.45" y="319.85">P2.7/A15</text>
<line x1="545.5" y1="335.5" x2="563.5" y2="335.5" stroke="#800000" stroke-width="1" />
<text class="t" x="554.6" y="333.4">10</text>
<rect x="549" y="329" width="4" height="3" fill="#FF3C3C" stroke="none" stroke-width="1" />
<text class="t e" x="541.45" y="337.45">P3.0/RXD</text>
<line x1="545.5" y1="344.5" x2="563.5" y2="344.5" stroke="#800000" stroke-width="1" />
<text class="t" x="554.6" y="342.2">11</text>
<rect x="549" y="338" width="4" height="3" fill="#4646FF" stroke="none" stroke-width="1" />
<text class="t e" x="541.45" y="346.25">P3.1/TXD</text>
<line x1="545.5" y1="352.5" x2="563.5" y2="352.5" stroke="#800000" stroke-width="1" />
<text class="t" x="554.6" y="351">12</text>
<rect x="549" y="346" width="4" height="4" fill="#FF3C3C" stroke="none" stroke-width="1" />
<text class="t e" x="541.45" y="355.05">P3.2/INT0</text>
<line x1="525.55" y1="348.5" x2="541.4" y2="348.5" stroke="#202020" stroke-width="1" stroke-linecap="butt"/>
<line x1="545.5" y1="361.5" x2="563.5" y2="361.5" stroke="#800000" stroke-width="1" />
<text class="t" x="554.6" y="359.8">13</text>
<rect x="549" y="355" width="4" height="4" fill="#FF3C3C" stroke="none" stroke-width="1" />
<text class="t e" x="541.45" y="363.85">P3.3/INT1</text>
<line x1="525.55" y1="357.5" x2="541.4" y2="357.5" stroke="#202020" stroke-width="1" stroke-linecap="butt"/>
<line x1="545.5" y1="370.5" x2="563.5" y2="370.5" stroke="#800000" stroke-width="1" />
<text class="t" x="554.6" y="368.6">14</text>
<rect x="549" y="364" width="4" height="3" fill="#FF3C3C" stroke="none" stroke-width="1" />
<text class="t e" x="541.45" y="372.65">P3.4/T0</text>
<line x1="545.5" y1="379.5" x2="563.5" y2="379.5" stroke="#800000" stroke-width="1" />
<text class="t" x="554.6" y="377.4">15</text>
<rect x="549" y="373" width="4" height="3" fill="#FF3C3C" stroke="none" stroke-width="1" />
<text class="t e" x="541.45" y="381.45">P3.5/T1</text>
<line x1="545.5" y1="388.5" x2="563.5" y2="388.5" stroke="#800000" stroke-width="1" />
<text class="t" x="554.6" y="386.2">16</text>
<rect x="549" y="382" width="4" height="3" fill="#FF3C3C" stroke="none" stroke-width="1" />
<text class="t e" x="541.45" y="390.25">P3.6/WR</text>
<line x1="529.22" y1="383.5" x2="541.4" y2="383.5" stroke="#202020" stroke-width="1" stroke-linecap="butt"/>
<line x1="545.5" y1="396.5" x2="563.5" y2="396.5" stroke="#800000" stroke-width="1" />
<text class="t" x="554.6" y="395">17</text>
<rect x="549" y="390" width="4" height="4" fill="#FF3C3C" stroke="none" stroke-width="1" />
<text class="t e" x="541.45" y="399.05">P3.7/RD</text>
<line x1="530.84" y1="392.5" x2="541.4" y2="392.5" stroke="#202020" stroke-width="1" stroke-linecap="butt"/>
<line x1="167.5" y1="476.5" x2="185.5" y2="476.5" stroke="#800000" stroke-width="1" />
<text class="t e" x="176" y="474.2">1</text>
<rect x="177" y="470" width="4" height="3" fill="#FF3C3C" stroke="none" stroke-width="1" />
<text class="t" x="190.03" y="478.25">CS</text>
<line x1="190" y1="471.5" x2="200.16" y2="471.5" stroke="#202020" stroke-width="1" stroke-linecap="butt"/>
<line x1="167.5" y1="484.5" x2="185.5" y2="484.5" stroke="#800000" stroke-width="1" />
<text class="t e" x="176" y="483">2</text>
<rect x="177" y="478" width="4" height="4" fill="#FF3C3C" stroke="none" stroke-width="1" />
<text class="t" x="189.8" y="487.05">RD</text>
<line x1="190" y1="480.5" x2="200.56" y2="480.5" stroke="#202020" stroke-width="1" stroke-linecap="butt"/>
<line x1="167.5" y1="493.5" x2="185.5" y2="493.5" stroke="#800000" stroke-width="1" />
<text class="t e" x="176" y="491.8">3</text>
<rect x="177" y="487" width="4" height="4" fill="#FF3C3C" stroke="none" stroke-width="1" />
<text class="t" x="190.37" y="495.85">WR</text>
<line x1="190" y1="489.5" x2="202.18" y2="489.5" stroke="#202020" stroke-width="1" stroke-linecap="butt"/>
<line x1="167.5" y1="502.5" x2="185.5" y2="502.5" stroke="#800000" stroke-width="1" />
<text class="t e" x="176" y="500.6">4</text>
<rect x="177" y="496" width="4" height="3" fill="#FF3C3C" stroke="none" stroke-width="1" />
<text class="t" x="190.03" y="504.65">CLK IN</text>
<line x1="167.5" y1="511.5" x2="185.5" y2="511.5" stroke="#800000" stroke-width="1" />
<text class="t e" x="176" y="509.4">5</text>
<rect x="177" y="505" width="4" height="3" fill="#FF3C3C" stroke="none" stroke-width="1" />
<text class="t" x="189.73" y="513.45">INTR</text>
<line x1="190" y1="506.5" x2="207.06" y2="506.5" stroke="#202020" stroke-width="1" stroke-linecap="butt"/>
<line x1="167.5" y1="520.5" x2="185.5" y2="520.5" stroke="#800000" stroke-width="1" />
<text class="t e" x="176" y="518.2">8</text>
<rect x="177" y="514" width="4" height="3" fill="#4646FF" stroke="none" stroke-width="1" />
<text class="t" x="190.39" y="522.25">A GND</text>
<line x1="167.5" y1="528.5" x2="185.5" y2="528.5" stroke="#800000" stroke-width="1" />
<text class="t e" x="176" y="527">10</text>
<rect x="177" y="522" width="4" height="4" fill="#4646FF" stroke="none" stroke-width="1" />
<text class="t" x="189.8" y="531.05">D GND</text>
<line x1="167.5" y1="537.5" x2="185.5" y2="537.5" stroke="#800000" stroke-width="1" />
<text class="t e" x="176" y="535.8">9</text>
<text class="t" x="190.37" y="539.85">VREF/2</text>
<line x1="167.5" y1="546.5" x2="185.5" y2="546.5" stroke="#800000" stroke-width="1" />
<text class="t e" x="176" y="544.6">19</text>
<rect x="177" y="540" width="4" height="3" fill="#FF3C3C" stroke="none" stroke-width="1" />
<text class="t" x="190.03" y="548.65">CLK R</text>
<line x1="167.5" y1="564.5" x2="185.5" y2="564.5" stroke="#800000" stroke-width="1" />
<text class="t e" x="176" y="562.2">6</text>
<text class="t" x="190.37" y="566.25">VIN+</text>
<line x1="167.5" y1="572.5" x2="185.5" y2="572.5" stroke="#800000" stroke-width="1" />
<text class="t e" x="176" y="571">7</text>
<rect x="177" y="566" width="4" height="4" fill="#4646FF" stroke="none" stroke-width="1" />
<text class="t" x="190.37" y="575.05">VIN-</text>
<line x1="290.5" y1="476.5" x2="308.5" y2="476.5" stroke="#800000" stroke-width="1" />
<text class="t" x="299.63" y="474.2">20</text>
<rect x="294" y="470" width="4" height="3" fill="#FF3C3C" stroke="none" stroke-width="1" />
<text class="t e" x="286.3" y="478.25">VCC</text>
<line x1="290.5" y1="484.5" x2="308.5" y2="484.5" stroke="#800000" stroke-width="1" />
<text class="t" x="299.44" y="483">18</text>
<rect x="294" y="478" width="4" height="4" fill="#FF3C3C" stroke="none" stroke-width="1" />
<text class="t e" x="286.3" y="487.05">DB0(LSB)</text>
<line x1="290.5" y1="493.5" x2="308.5" y2="493.5" stroke="#800000" stroke-width="1" />
<text class="t" x="299.44" y="491.8">17</text>
<rect x="294" y="487" width="4" height="4" fill="#FF3C3C" stroke="none" stroke-width="1" />
<text class="t e" x="286.3" y="495.85">DB1</text>
<line x1="290.5" y1="502.5" x2="308.5" y2="502.5" stroke="#800000" stroke-width="1" />
<text class="t" x="299.44" y="500.6">16</text>
<rect x="294" y="496" width="4" height="3" fill="#FF3C3C" stroke="none" stroke-width="1" />
<text class="t e" x="286.3" y="504.65">DB2</text>
<line x1="290.5" y1="511.5" x2="308.5" y2="511.5" stroke="#800000" stroke-width="1" />
<text class="t" x="299.44" y="509.4">15</text>
<rect x="294" y="505" width="4" height="3" fill="#FF3C3C" stroke="none" stroke-width="1" />
<text class="t e" x="286.3" y="513.45">DB3</text>
<line x1="290.5" y1="520.5" x2="308.5" y2="520.5" stroke="#800000" stroke-width="1" />
<text class="t" x="299.44" y="518.2">14</text>
<rect x="294" y="514" width="4" height="3" fill="#FF3C3C" stroke="none" stroke-width="1" />
<text class="t e" x="286.3" y="522.25">DB4</text>
<line x1="290.5" y1="528.5" x2="308.5" y2="528.5" stroke="#800000" stroke-width="1" />
<text class="t" x="299.44" y="527">13</text>
<rect x="294" y="522" width="4" height="4" fill="#FF3C3C" stroke="none" stroke-width="1" />
<text class="t e" x="286.3" y="531.05">DB5</text>
<line x1="290.5" y1="537.5" x2="308.5" y2="537.5" stroke="#800000" stroke-width="1" />
<text class="t" x="299.44" y="535.8">12</text>
<rect x="294" y="531" width="4" height="4" fill="#FF3C3C" stroke="none" stroke-width="1" />
<text class="t e" x="286.3" y="539.85">DB6</text>
<line x1="290.5" y1="546.5" x2="308.5" y2="546.5" stroke="#800000" stroke-width="1" />
<text class="t" x="299.44" y="544.6">11</text>
<rect x="294" y="540" width="4" height="3" fill="#FF3C3C" stroke="none" stroke-width="1" />
<text class="t e" x="286.3" y="548.65">DB7(MSB)</text>
<text class="t" x="589.5" y="174.45">P00</text>
<text class="t" x="572.4" y="288.85">P24</text>
<text class="t" x="589.5" y="183.25">P01</text>
<text class="t" x="572.4" y="297.65">P25</text>
<text class="t" x="589.5" y="192.05">P02</text>
<text class="t" x="572.4" y="306.45">P26</text>
<text class="t" x="589.5" y="200.85">P03</text>
<text class="t" x="572.4" y="315.25">P27</text>
<text class="t" x="581.6" y="332.85">A</text>
<text class="t" x="581" y="341.65">B</text>
<text class="t" x="581.23" y="350.45">C</text>
<text class="t" x="581" y="359.25">D</text>
<text class="t" x="581" y="368.05">E</text>
<text class="t" x="581" y="376.85">F</text>
<text class="t" x="581.23" y="385.65">G</text>
<text class="t" x="581" y="394.45">DP</text>
<text class="t" x="158.3" y="473.65">P24</text>
<text class="t" x="158.3" y="482.45">P27</text>
<text class="t" x="158.3" y="491.25">P26</text>
<text class="t" x="158.3" y="508.85">P25</text>
<text class="s" x="202.77" y="282.8">VDD</text>
<rect x="244" y="152.3" width="4.1" height="4.8" fill="#4646FF" stroke="none" stroke-width="1" />
<rect x="244" y="205.3" width="4.1" height="4.8" fill="#4646FF" stroke="none" stroke-width="1" />
<rect x="288" y="231.2" width="4.1" height="4.8" fill="#4646FF" stroke="none" stroke-width="1" />
<rect x="332" y="231.2" width="4.1" height="4.8" fill="#FF3C3C" stroke="none" stroke-width="1" />
<rect x="297" y="267" width="4.1" height="4.8" fill="#FF3C3C" stroke="none" stroke-width="1" />
<rect x="332" y="267" width="4.1" height="4.8" fill="#FF3C3C" stroke="none" stroke-width="1" />
<rect x="59.3" y="468.8" width="4.1" height="4.8" fill="#FF3C3C" stroke="none" stroke-width="1" />
<rect x="103.3" y="468.8" width="4.1" height="4.8" fill="#FF3C3C" stroke="none" stroke-width="1" />
<rect x="68" y="495.3" width="4.1" height="4.8" fill="#4646FF" stroke="none" stroke-width="1" />
<rect x="103.3" y="495.3" width="4.1" height="4.8" fill="#FF3C3C" stroke="none" stroke-width="1" />
<rect x="28.2" y="535.1" width="4.1" height="4.8" fill="#4646FF" stroke="none" stroke-width="1" />
<rect x="28.2" y="641" width="4.1" height="4.8" fill="#FF3C3C" stroke="none" stroke-width="1" />
<rect x="873.2" y="209.3" width="4.1" height="4.8" fill="#4646FF" stroke="none" stroke-width="1" />
<rect x="842.3" y="381" width="4.1" height="4.8" fill="#4646FF" stroke="none" stroke-width="1" />
<rect x="752" y="197.2" width="2.8" height="2.8" fill="#4646FF" stroke="none" stroke-width="1" />
<text class="g" x="254.62" y="184.1">&lt;TEXT&gt;</text>
<text class="g" x="254.62" y="237">&lt;TEXT&gt;</text>
<text class="g" x="335.32" y="205.1">&lt;TEXT&gt;</text>
<text class="g" x="298.72" y="257.8">&lt;TEXT&gt;</text>
<text class="g" x="307.62" y="299">&lt;TEXT&gt;</text>
<text class="g" x="422.22" y="422.3">&lt;TEXT&gt;</text>
<text class="g" x="184.22" y="597.7">&lt;TEXT&gt;</text>
<text class="g" x="70.42" y="496.2">&lt;TEXT&gt;</text>
<text class="g" x="61.72" y="509.8">&lt;TEXT&gt;</text>
<text class="g" x="44.62" y="573.5">&lt;TEXT&gt;</text>
<text class="g" x="44.62" y="635.7">&lt;TEXT&gt;</text>
<text class="g" x="158.22" y="644.6">&lt;TEXT&gt;</text>
<text class="g" x="571.92" y="562.7">&lt;TEXT&gt;</text>
<text class="g" x="712.82" y="280.5">&lt;TEXT&gt;</text>
<text class="g" x="903.42" y="248.7">&lt;TEXT&gt;</text>
<text class="g" x="889.52" y="306.9">&lt;TEXT&gt;</text>
<text class="g" x="880.52" y="421">&lt;TEXT&gt;</text>
<text class="g" x="853.62" y="407.8">&lt;TEXT&gt;</text>
<text class="g" x="923.82" y="468.6">&lt;TEXT&gt;</text>
<text class="g" x="960.42" y="425.6">&lt;TEXT&gt;</text>
<text class="t" x="254.72" y="174.7">30pF</text>
<text class="t" x="254.72" y="228">30pF</text>
<text class="t" x="335.33" y="195.7">CRYSTAL</text>
<text class="t" x="298.54" y="248.7">10k</text>
<text class="t" x="307.44" y="289.9">1uF</text>
<text class="t" x="422.6" y="412.9">AT89C51</text>
<text class="t" x="184.6" y="588.9">ADC0804</text>
<text class="t" x="70.24" y="486.8">10k</text>
<text class="t" x="78.24" y="518.6">150pF</text>
<text class="t" x="44.44" y="565.3">1k</text>
<text class="t" x="44.44" y="626.5">1k</text>
<text class="t" x="158.04" y="635.5">10k</text>
<text class="t" x="572.01" y="553.4">5V</text>
<text class="t" x="712.6" y="271.8">RTD-PT100</text>
<text class="t" x="903.43" y="239.8">2.55mA</text>
<text class="t" x="853.44" y="398.8">10k</text>
<text class="t" x="923.83" y="459.6">240k</text>
<text class="t" x="960.2" y="416.6">LM324</text>
<text class="n" x="254.47" y="146.7">C1</text>
<text class="n" x="254.47" y="199.6">C2</text>
<text class="n" x="335.46" y="186.5">X1</text>
<text class="n" x="298.04" y="231.7">R1</text>
<text class="n" x="307.47" y="261.8">C3</text>
<text class="n" x="422.29" y="164.6">U1</text>
<text class="n" x="184.29" y="463.9">U2</text>
<text class="n" x="69.94" y="468.7">R5</text>
<text class="n" x="78.27" y="491.1">C4</text>
<text class="n" x="44.14" y="555.7">R4</text>
<text class="n" x="44.14" y="617.7">R3</text>
<text class="n" x="157.74" y="618.8">R2</text>
<text class="n" x="572.25" y="507.4">V1</text>
<text class="n" x="712.34" y="199.5">RT1</text>
<text class="n" x="902.83" y="230.3">I1</text>
<text class="n" x="960.59" y="344.5">U3:A</text>
<text class="n" x="853.14" y="380.4">R6</text>
<text class="n" x="923.34" y="442.7">R7</text>
<text class="t" x="757.4" y="201.5">E+</text>
<text class="t" x="757.67" y="210.5">S+</text>
<text class="t" x="757.67" y="254.5">S-</text>
<text class="t" x="757.4" y="262.5">E-</text>
<text class="b" x="905.64" y="298">12v</text>
<text class="b" x="893.68" y="413.1">-12v</text>
<text class="s" x="911.14" y="368.7">3</text>
<text class="s" x="911.06" y="386.7">2</text>
<text class="s" x="968.48" y="377.8">1</text>
<text class="s" style="font-size:6.39px" transform="translate(932 353.5) rotate(-90)">4</text>
<text class="s" style="font-size:6.39px" transform="translate(932 412) rotate(-90)">11</text>
</svg>
</body></html>
